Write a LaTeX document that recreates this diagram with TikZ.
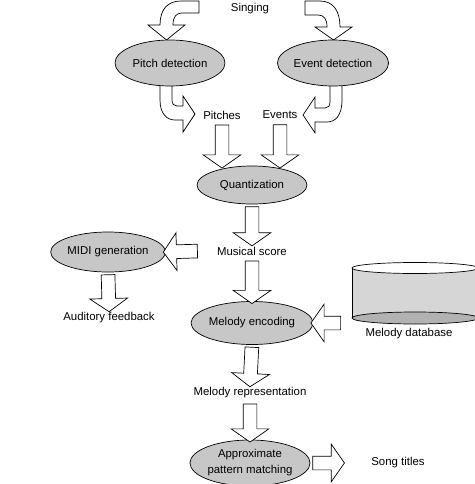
\documentclass[tikz,border=0pt]{standalone}
\usepackage{fontspec}
\setmainfont{Liberation Sans}
\usetikzlibrary{shapes.geometric,shapes.arrows,calc}

\definecolor{procfill}{gray}{0.78}
\definecolor{dbfill}{gray}{0.84}
\definecolor{dbbase}{gray}{0.70}

\def\blockarrow#1#2#3{%
  \path let \p1=($(#2)-(#1)$), \n1={veclen(\x1,\y1)}, \n2={atan2(\y1,\x1)} in
    node[block arrow, minimum height=\n1, rotate=\n2] (#3) at ($(#1)!0.5!(#2)$) {};}

\begin{document}
\begin{tikzpicture}[x=1pt, y=-1pt, line width=0.7pt, font=\fontsize{11.4}{13}\selectfont]
    \tikzstyle{process}=[ellipse, draw, fill=procfill, inner sep=0pt, minimum width=110pt, align=center]
    \tikzstyle{data}=[inner sep=3pt]
    \tikzstyle{block arrow}=[single arrow, draw, fill=white, inner xsep=0pt, inner ysep=6.5pt,
        single arrow head extend=12pt, single arrow tip angle=110, single arrow head indent=0pt]
    \tikzstyle{bend arrow}=[draw, fill=white]

    \useasboundingbox (0,0) rectangle (474,484);

    % curved arrows round the detectors
    \path[bend arrow] (199,1) -- (181,1) .. controls (167,1) and (160,10) .. (160,25)
        -- (148,25) -- (166.5,40) -- (185,25) -- (173,25)
        .. controls (173,17) and (176,13) .. (182,13) -- (199,13) -- cycle;
    \path[bend arrow] (305,1) -- (320,1) .. controls (334,1) and (340,12) .. (340,27)
        -- (352,27) -- (333.5,40) -- (315,27) -- (327,27)
        .. controls (327,19) and (324,15) .. (318,15) -- (305,15) -- cycle;
    \path[bend arrow] (160,78) -- (160,100) .. controls (160,114) and (167,120) .. (175,120)
        -- (183,120) -- (183,132) -- (195,114) -- (183,96) -- (183,106) -- (177,106)
        .. controls (174,106) and (172,104) .. (172,100) -- (172,78);
    \path[bend arrow] (342,78) -- (342,100) .. controls (342,116) and (335,122) .. (327,122)
        -- (315,122) -- (315,133) -- (303,115) -- (315,97) -- (315,108) -- (325,108)
        .. controls (328,108) and (330,106) .. (330,102) -- (330,78);

    % database cylinder
    \fill[dbfill] (352,268) rectangle (478,318);
    \draw (352,268) -- (352,318) (478,268) -- (478,318);
    \draw[fill=dbbase] (415,318) ellipse [x radius=63pt, y radius=6pt];
    \draw[fill=white] (415,268) ellipse [x radius=63pt, y radius=5.5pt];
    \coordinate (dbport) at (343,323);

    \node[process, minimum height=46pt] (pitchdet) at (170,63) {Pitch detection};
    \node[process, minimum height=46pt] (eventdet) at (333,63) {Event detection};
    \node[process, minimum height=38pt] (quant) at (252,185) {Quantization};
    \node[process, minimum height=40pt] (midi) at (108,252) {MIDI generation};
    \node[process, minimum height=43pt, minimum width=107pt] (encode) at (252,323) {Melody encoding};
    \node[process, minimum height=46pt, font=\fontsize{11.4}{16}\selectfont] (match) at (250,463)
        {Approximate\\pattern matching};

    \node[data] (sing) at (250,9) {Singing};
    \node[data] (pitches) at (222,115) {Pitches};
    \node[data] (events) at (280,115) {Events};
    \node[data] (score) at (252,251) {Musical score};
    \node[data] (feedback) at (109,318) {Auditory feedback};
    \node[data] (dbase) at (409,334) {Melody database};
    \node[data] (rep) at (250,393) {Melody representation};
    \node[data] (titles) at (398,463) {Song titles};

    \coordinate (pitchin) at (pitches.south |- quant.north);
    \coordinate (eventin) at (events.south |- quant.north);
    \coordinate (scoreout) at ($(score.west)+(-14,0)$);
    \coordinate (titlein) at ($(titles.west)+(-26,0)$);

    \foreach \source/\dest/\name in {pitches.south/pitchin/a1, events.south/eventin/a2,
            quant.south/score.north/a3, scoreout/midi.east/a4, midi.south/feedback.north/a5,
            score.south/encode.north/a6, dbport/encode.east/a7, encode.south/rep.north/a8,
            rep.south/match.north/a9, match.east/titlein/a10}
        {\blockarrow{\source}{\dest}{\name}}
\end{tikzpicture}
\end{document}
